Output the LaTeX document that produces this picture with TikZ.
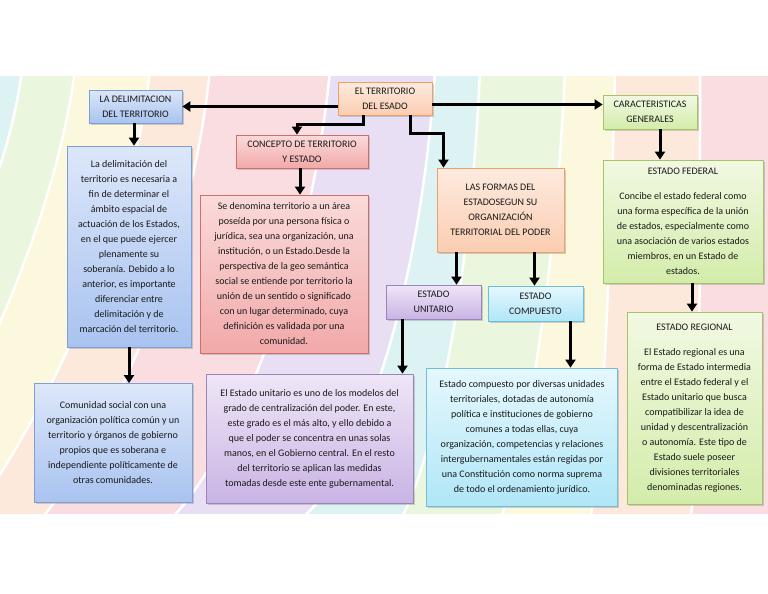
\documentclass[tikz,border=0pt]{standalone}
\usepackage{fontspec}
\setmainfont{Carlito}
\usepackage{tikz}
\usetikzlibrary{arrows.meta,positioning,shadows}

\definecolor{bandcyan}{HTML}{DDF3F3}
\definecolor{bandgreen}{HTML}{EBF6DF}
\definecolor{bandyellow}{HTML}{FBF8DE}
\definecolor{bandpeach}{HTML}{FCE9DB}
\definecolor{bandpink}{HTML}{FADDE1}
\definecolor{bandpurple}{HTML}{E9DFF4}

\definecolor{blueline}{HTML}{7E9FD3}
\definecolor{bluetop}{HTML}{DCE7F9}
\definecolor{bluebottom}{HTML}{A9C3F0}
\definecolor{redline}{HTML}{CF6F6C}
\definecolor{redtop}{HTML}{FBDADA}
\definecolor{redbottom}{HTML}{F2A9A9}
\definecolor{peachline}{HTML}{EE9F6A}
\definecolor{peachtop}{HTML}{FDEBDF}
\definecolor{peachbottom}{HTML}{FBCDB1}
\definecolor{greenline}{HTML}{A5C46A}
\definecolor{greentop}{HTML}{F1F9E2}
\definecolor{greenbottom}{HTML}{D3ECAA}
\definecolor{purpleline}{HTML}{9A84B8}
\definecolor{purpletop}{HTML}{EFE6F7}
\definecolor{purplebottom}{HTML}{C9B4E4}
\definecolor{cyanline}{HTML}{6FBDD6}
\definecolor{cyantop}{HTML}{E5F8FD}
\definecolor{cyanbottom}{HTML}{B0E6F7}

\begin{document}
\begin{tikzpicture}
	[x=1pt, y=-1pt, inner sep=0pt, font=\fontsize{10}{15}\selectfont, text=black!90,
	band/.style		= {draw=white, line width=2.5pt},
	box/.style		= {rectangle, draw, line width=0.8pt, align=center, drop shadow={shadow xshift=1.6pt, shadow yshift=-1.6pt, opacity=0.35}},
	bluebox/.style	= {box, draw=blueline, top color=bluetop, bottom color=bluebottom},
	redbox/.style	= {box, draw=redline, top color=redtop, bottom color=redbottom},
	peachbox/.style	= {box, draw=peachline, top color=peachtop, bottom color=peachbottom},
	greenbox/.style	= {box, draw=greenline, top color=greentop, bottom color=greenbottom},
	purplebox/.style	= {box, draw=purpleline, top color=purpletop, bottom color=purplebottom},
	cyanbox/.style	= {box, draw=cyanline, top color=cyantop, bottom color=cyanbottom},
	paths/.style	= {-{Triangle[length=8pt, width=10pt]}, line width=3pt, black}]

	\useasboundingbox (0,0) rectangle (768,594);
	\fill[white] (0,0) rectangle (768,594);

	% background stripes
	\begin{scope}
	\clip (0,76) rectangle (768,513);
	\fill[bandcyan] (0,70) rectangle (800,520);
	\filldraw[band, fill=bandgreen]		(22,70) .. controls (5,200) and (-60,300) .. (-150,520) -- (800,520) -- (800,70) -- cycle;
	\filldraw[band, fill=bandyellow]	(75,70) .. controls (55,220) and (-20,380) .. (-100,520) -- (800,520) -- (800,70) -- cycle;
	\filldraw[band, fill=bandpeach]		(150,70) .. controls (130,250) and (40,420) .. (-30,520) -- (800,520) -- (800,70) -- cycle;
	\filldraw[band, fill=bandpink]		(210,70) .. controls (190,260) and (110,440) .. (40,520) -- (800,520) -- (800,70) -- cycle;
	\filldraw[band, fill=bandpurple]	(330,70) .. controls (310,280) and (230,460) .. (170,520) -- (800,520) -- (800,70) -- cycle;
	\filldraw[band, fill=bandcyan]		(435,70) .. controls (420,300) and (360,470) .. (300,520) -- (800,520) -- (800,70) -- cycle;
	\filldraw[band, fill=bandgreen]		(480,70) .. controls (470,300) and (430,470) .. (400,520) -- (800,520) -- (800,70) -- cycle;
	\filldraw[band, fill=bandyellow]	(565,70) .. controls (555,300) and (520,470) .. (500,520) -- (800,520) -- (800,70) -- cycle;
	\filldraw[band, fill=bandpeach]		(615,70) .. controls (610,300) and (600,470) .. (590,520) -- (800,520) -- (800,70) -- cycle;
	\filldraw[band, fill=bandpink]		(700,70) .. controls (700,300) and (700,470) .. (690,520) -- (800,520) -- (800,70) -- cycle;
	\end{scope}

	\node at (385, 98.5)	[peachbox, minimum width=94pt, minimum height=33pt]	(terr)	{EL TERRITORIO\\DEL ESADO};
	\node at (135.5, 106.5)	[bluebox, minimum width=93pt, minimum height=33pt]	(delim)	{LA DELIMITACION\\DEL TERRITORIO};
	\node at (650, 112)		[greenbox, minimum width=94pt, minimum height=34pt]	(carac)	{CARACTERISTICAS\\GENERALES};

	\node at (129, 246.5)	[bluebox, minimum width=124pt, minimum height=201pt]	(delimtxt)	{La delimitación del\\territorio es necesaria a\\fin de determinar el\\ámbito espacial de\\actuación de los Estados,\\en el que puede ejercer\\plenamente su\\soberanía. Debido a lo\\anterior, es importante\\diferenciar entre\\delimitación y de\\marcación del territorio.};
	\node at (113, 443)		[bluebox, minimum width=158pt, minimum height=119pt]	(comunidad)	{Comunidad social con una\\organización política común y un\\territorio y órganos de gobierno\\propios que es soberana e\\independiente políticamente de\\otras comunidades.};

	\node at (302, 151.5)	[redbox, minimum width=132pt, minimum height=33pt]	(concepto)	{CONCEPTO DE TERRITORIO\\Y ESTADO};
	\node at (284, 274)		[redbox, minimum width=168pt, minimum height=158pt]	(conctxt)	{Se denomina territorio a un área\\poseída por una persona física o\\jurídica, sea una organización, una\\institución, o un Estado.Desde la\\perspectiva de la geo semántica\\social se entiende por territorio la\\unión de un sentido o significado\\con un lugar determinado, cuya\\definición es validada por una\\comunidad.};

	\node at (500.5, 210)	[peachbox, minimum width=127pt, minimum height=84pt]	(formas)	{LAS FORMAS DEL\\ESTADOSEGUN SU\\ORGANIZACIÓN\\TERRITORIAL DEL PODER};
	\node at (433.5, 302)	[purplebox, minimum width=95pt, minimum height=34pt]	(unitario)	{ESTADO\\UNITARIO};
	\node at (535.5, 303.5)	[cyanbox, minimum width=95pt, minimum height=35pt]	(compuesto)	{ESTADO\\COMPUESTO};
	\node at (309.5, 438.5)	[purplebox, minimum width=207pt, minimum height=129pt]	(unittxt)	{El Estado unitario es uno de los modelos del\\grado de centralización del poder. En este,\\este grado es el más alto, y ello debido a\\que el poder se concentra en unas solas\\manos, en el Gobierno central. En el resto\\del territorio se aplican las medidas\\tomadas desde este ente gubernamental.};
	\node at (522, 437)		[cyanbox, minimum width=191pt, minimum height=138pt]	(comptxt)	{Estado compuesto por diversas unidades\\territoriales, dotadas de autonomía\\política e instituciones de gobierno\\comunes a todas ellas, cuya\\organización, competencias y relaciones\\intergubernamentales están regidas por\\una Constitución como norma suprema\\de todo el ordenamiento jurídico.};

	\node at (683, 221.5)	[greenbox, minimum width=160pt, minimum height=123pt]	(federal)	{ESTADO FEDERAL\\[9.5pt]Concibe el estado federal como\\una forma específica de la unión\\de estados, especialmente como\\una asociación de varios estados\\miembros, en un Estado de\\estados.};
	\node at (694.5, 408)	[greenbox, minimum width=135pt, minimum height=192pt]	(regional)	{ESTADO REGIONAL\\[9.5pt]El Estado regional es una\\forma de Estado intermedia\\entre el Estado federal y el\\Estado unitario que busca\\compatibilizar la idea de\\unidad y descentralización\\o autonomía. Este tipo de\\Estado suele poseer\\divisiones territoriales\\denominadas regiones.};

	\draw [paths] (terr.west |- delim.east) -- (delim.east);
	\draw [paths] ([yshift=-6pt]terr.east) -- ([yshift=-6pt]terr.east -| carac.west);
	\draw [paths] ([xshift=-22pt]terr.south) -- ++(0,9) -| ([xshift=-5pt]concepto.north);
	\draw [paths] ([xshift=25pt]terr.south) -- ++(0,18) -| ([xshift=-57pt]formas.north);

	\draw [paths] ([xshift=-1.5pt]delim.south) -- ([xshift=-1.5pt]delim.south |- delimtxt.north);
	\draw [paths] (delimtxt.south) -- (delimtxt.south |- comunidad.north);
	\draw [paths] ([xshift=-2pt]concepto.south) -- ([xshift=-2pt]concepto.south |- conctxt.north);
	\draw [paths] ([xshift=-44pt]formas.south) -- ([xshift=-44pt]formas.south |- unitario.north);
	\draw [paths] ([xshift=34pt]formas.south) -- ([xshift=34pt]formas.south |- compuesto.north);
	\draw [paths] ([xshift=-31pt]unitario.south) -- ([xshift=-31pt]unitario.south |- unittxt.north);
	\draw [paths] ([xshift=35pt]compuesto.south) -- ([xshift=35pt]compuesto.south |- comptxt.north);
	\draw [paths] ([xshift=10pt]carac.south) -- ([xshift=10pt]carac.south |- federal.north);
	\draw [paths] ([xshift=9pt]federal.south) -- ([xshift=9pt]federal.south |- regional.north);
\end{tikzpicture}
\end{document}
